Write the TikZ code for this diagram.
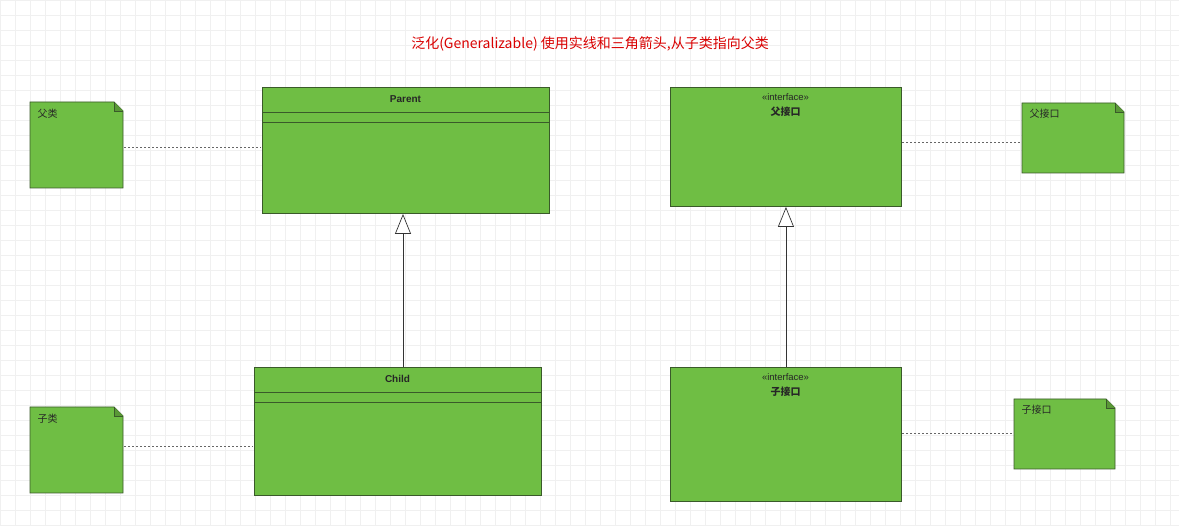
\documentclass[tikz,border=0pt]{standalone}
\usepackage{fontspec}
\setmainfont{Liberation Sans}
\newfontfamily\cjk{Noto Sans CJK SC}
\usetikzlibrary{arrows.meta}
\definecolor{gfill}{HTML}{6FBE44}
\definecolor{gline}{HTML}{3A5A2A}
\definecolor{gridc}{HTML}{F0F0F0}
\tikzset{
  cls/.style={draw=gline,fill=gfill,line width=0.9pt,anchor=north west,inner sep=0pt},
  lbl/.style={font=\cjk\fontsize{10}{12}\selectfont,text=black!85},
  bold/.style={font=\cjk\bfseries\fontsize{10}{12}\selectfont,text=black!85},
  dotl/.style={draw=black!60,dash pattern=on 2pt off 2pt,line width=1pt},
  gen/.style={draw=black!80,line width=0.7pt,-{Triangle[open,length=20pt,width=16pt,fill=white]}},
}
\newcommand{\notebox}[5]{% name x1 y1 x2 y2
  \fill[gfill] (#2,#3) -- (#4-9,#3) -- (#4,#3+9) -- (#4,#5) -- (#2,#5) -- cycle;
  \draw[gline,line width=0.9pt] (#2,#3) -- (#4-9,#3) -- (#4,#3+9) -- (#4,#5) -- (#2,#5) -- cycle;
  \draw[gline,line width=0.7pt,fill=gfill!80!black] (#4-9,#3) -- (#4-9,#3+9) -- (#4,#3+9);
  \coordinate (#1) at (#2,#3);
  \coordinate (#1e) at (#4,#3);
}
\begin{document}
\begin{tikzpicture}[x=1pt,y=-1pt]
\useasboundingbox (0,0) rectangle (1179,526);
\fill[white] (0,0) rectangle (1179,526);
\draw[gridc,line width=0.5pt,step=15pt] (0,0) grid (1179,526);
\node[font=\cjk\fontsize{14}{16}\selectfont,text=red!85!black] (title) at (590,44) {泛化(Generalizable) 使用实线和三角箭头,从子类指向父类};
% Parent
\node[cls,minimum width=287pt,minimum height=126pt] (parent) at (262,87) {};
\draw[gline,line width=0.9pt] (262,112) -- (549,112) (262,122) -- (549,122);
\node[bold,font=\bfseries\fontsize{10}{12}\selectfont] (pn) at (405.5,99) {Parent};
% Child
\node[cls,minimum width=287pt,minimum height=128pt] (child) at (254,367) {};
\draw[gline,line width=0.9pt] (254,392) -- (541,392) (254,402) -- (541,402);
\node[bold,font=\bfseries\fontsize{10}{12}\selectfont] (cn) at (397.5,379) {Child};
% interfaces
\node[cls,minimum width=231pt,minimum height=119pt] (pi) at (670,87) {};
\node[lbl,font=\fontsize{9.5}{11}\selectfont] (pis) at (785.5,97) {«interface»};
\node[bold] (pin) at (785.5,112) {父接口};
\node[cls,minimum width=231pt,minimum height=134pt] (ci) at (670,367) {};
\node[lbl,font=\fontsize{9.5}{11}\selectfont] (cis) at (785.5,377) {«interface»};
\node[bold] (cin) at (785.5,392) {子接口};
% notes
\notebox{n1}{30}{102}{123}{188}
\node[lbl,anchor=north west] (n1t) at (34,106) {父类};
\notebox{n2}{30}{407}{123}{493}
\node[lbl,anchor=north west] (n2t) at (34,411) {子类};
\notebox{n3}{1022}{103}{1124}{173}
\node[lbl,anchor=north west] (n3t) at (1026,106) {父接口};
\notebox{n4}{1014}{399}{1115}{469}
\node[lbl,anchor=north west] (n4t) at (1018,402) {子接口};
% dotted
\coordinate (a1) at (124,148); \coordinate (b1) at (261,148);
\draw[dotl] (a1) -- (b1);
\coordinate (a2) at (124,447); \coordinate (b2) at (253,447);
\draw[dotl] (a2) -- (b2);
\coordinate (a3) at (902,143); \coordinate (b3) at (1021,143);
\draw[dotl] (a3) -- (b3);
\coordinate (a4) at (902,434); \coordinate (b4) at (1013,434);
\draw[dotl] (a4) -- (b4);
% generalization
\draw[gen] (child.north -| 403,0) -- (parent.south -| 403,0);
\draw[gen] (ci.north) -- (pi.south);
\end{tikzpicture}
\end{document}
